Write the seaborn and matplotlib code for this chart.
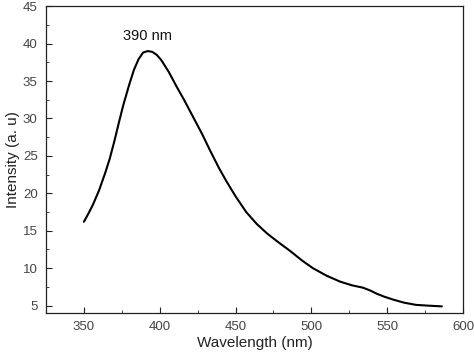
import pandas as pd
import seaborn as sns
from matplotlib import pyplot as plt
from matplotlib.ticker import MultipleLocator

# valores
wavelength = [350, 353, 356, 360, 364, 367, 370, 373, 376, 380, 383, 386, 389, 392,
              395, 398, 401, 406, 411, 416, 422, 428, 433, 439, 444, 450, 457,
              464, 471, 478, 486, 494, 501, 510, 519, 527, 534, 539, 543, 548,
              554, 561, 569, 577, 586]
intensity = [16.2, 17.3, 18.5, 20.4, 22.7, 24.6, 26.9, 29.4, 31.8, 34.6, 36.5, 37.9, 38.8, 39.0,
             38.9, 38.5, 37.8, 36.2, 34.3, 32.5, 30.2, 27.9, 25.8, 23.4, 21.6, 19.6, 17.5,
             15.9, 14.6, 13.5, 12.3, 11.0, 10.0, 9.0, 8.2, 7.7, 7.4, 7.0, 6.6, 6.2,
             5.8, 5.4, 5.1, 5.0, 4.9]
peak_label = "390 nm"

df = pd.DataFrame({"wavelength": wavelength, "intensity": intensity})

sns.set_style("ticks")
plt.rcParams["font.family"] = ["Liberation Sans", "DejaVu Sans"]

fig = plt.figure(figsize=(4.74, 3.62), dpi=100)
ax = fig.add_axes([0.097, 0.135, 0.88, 0.848])

sns.lineplot(data=df, x="wavelength", y="intensity", color="black", linewidth=1.5, ax=ax)

ax.set_xlim(325, 600)
ax.set_ylim(4, 45)
ax.xaxis.set_major_locator(MultipleLocator(50))
ax.xaxis.set_minor_locator(MultipleLocator(25))
ax.yaxis.set_major_locator(MultipleLocator(5))
ax.yaxis.set_minor_locator(MultipleLocator(2.5))
ax.tick_params(which="both", direction="in", top=False, right=False, colors="#222222",
               labelcolor="#444444", labelsize=9.5, pad=6)
ax.tick_params(which="major", length=4)
ax.tick_params(which="minor", length=2.5)
for s in ax.spines.values():
    s.set_linewidth(0.9)
    s.set_color("#222222")

ax.set_xlabel("Wavelength (nm)", fontsize=11, color="#222222", labelpad=2)
ax.set_ylabel("Intensity (a. u)", fontsize=11, color="#222222", labelpad=2)

ax.text(392, 41, peak_label, ha="center", va="center", fontsize=10.5, color="#111111")

fig.savefig("out.png", dpi=100)
